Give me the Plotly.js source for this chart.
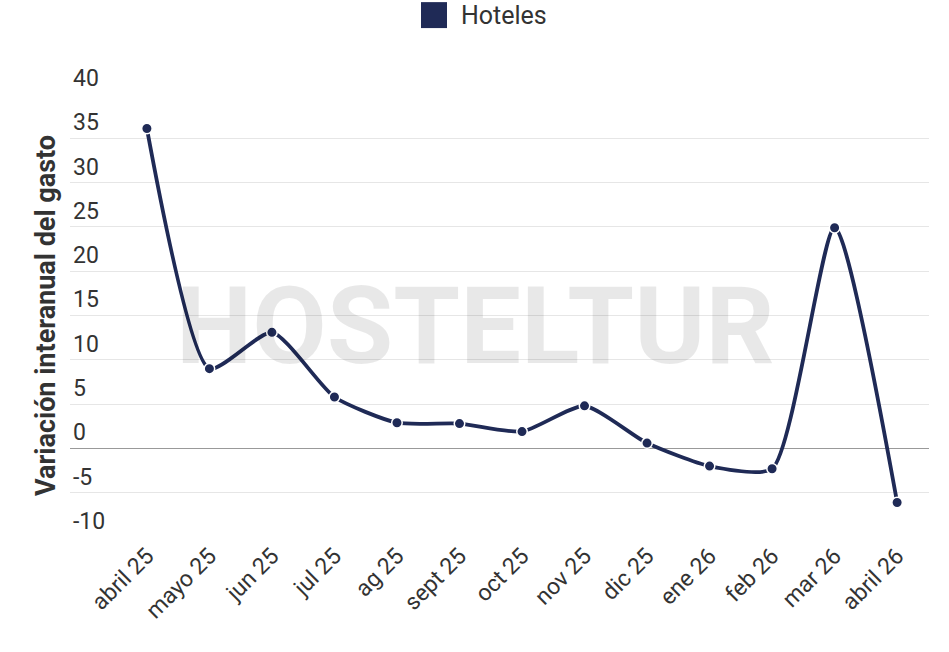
<!DOCTYPE html>
<html>
<head>
<meta charset="utf-8">
<script src="https://cdn.plot.ly/plotly-3.0.1.min.js"></script>
<style>html,body{margin:0;padding:0;background:#fff;}#chart{width:949px;height:652px;}</style>
</head>
<body>
<div id="chart"></div>
<script>
var categories = ["abril 25","mayo 25","jun 25","jul 25","ag 25","sept 25","oct 25","nov 25","dic 25","ene 26","feb 26","mar 26","abril 26"];
var hoteles = [36.1, 9.0, 13.1, 5.8, 2.9, 2.8, 1.9, 4.8, 0.6, -2.0, -2.3, 24.9, -6.1];
var yTicks = [-10, -5, 0, 5, 10, 15, 20, 25, 30, 35, 40];
var yTickLabels = ["-10", "-5", "0", "5", "10", "15", "20", "25", "30", "35", "40"];
var seriesName = "Hoteles";
var yTitle = "Variación interanual del gasto";
var watermark = "HOSTELTUR";

var navy = "#1f2a56";
var idx = categories.map(function(_, i){ return i; });

var trace = {
  type: "scatter",
  mode: "lines+markers",
  name: seriesName,
  x: idx,
  y: hoteles,
  line: {shape: "spline", smoothing: 0.6, color: navy, width: 3.8},
  marker: {size: 10.5, color: navy, line: {color: "#ffffff", width: 1.5}},
  showlegend: false,
  hoverinfo: "skip"
};

var layout = {
  width: 949, height: 652,
  margin: {l: 70, r: 20, t: 94, b: 114.5},
  paper_bgcolor: "#ffffff", plot_bgcolor: "#ffffff",
  font: {family: "Roboto, sans-serif", color: "#333"},
  showlegend: false,
  xaxis: {
    range: [-1.23, 12.51],
    tickmode: "array", tickvals: idx, ticktext: categories,
    tickangle: -45,
    tickfont: {size: 23, color: "#333"},
    showgrid: false, zeroline: false, showline: false,
    ticks: "", fixedrange: true
  },
  yaxis: {
    range: [-10, 40],
    tickmode: "array", tickvals: yTicks, ticktext: yTickLabels,
    ticklabelposition: "inside top",
    ticklabeloverflow: "allow",
    tickfont: {size: 23, color: "#333"},
    showgrid: true, gridcolor: "#e6e6e6", gridwidth: 1,
    zeroline: true, zerolinecolor: "#999999", zerolinewidth: 1.5,
    showline: false, ticks: "",
    title: {text: yTitle, font: {size: 27, color: "#333", family: "Roboto, sans-serif", weight: "bold"}, standoff: 9},
    fixedrange: true
  },
  shapes: [{
    type: "rect", xref: "paper", yref: "paper",
    x0: 0.4086, x1: 0.4389, y0: 1.1488, y1: 1.2074,
    fillcolor: navy, line: {width: 0}
  }],
  annotations: [
    {
      text: seriesName, xref: "paper", yref: "paper",
      x: 0.4529, y: 1.178, xanchor: "left", yanchor: "middle",
      showarrow: false, font: {size: 25, color: "#333", family: "Roboto, sans-serif"}
    },
    {
      text: "<b>" + watermark + "</b>", xref: "paper", yref: "paper",
      x: 0.4715, y: 0.477, xanchor: "center", yanchor: "middle",
      showarrow: false, font: {size: 108, color: "rgba(0,0,0,0.09)", family: "Roboto, sans-serif"}
    }
  ]
};

Plotly.newPlot("chart", [trace], layout, {displayModeBar: false, staticPlot: true});
</script>
</body>
</html>
